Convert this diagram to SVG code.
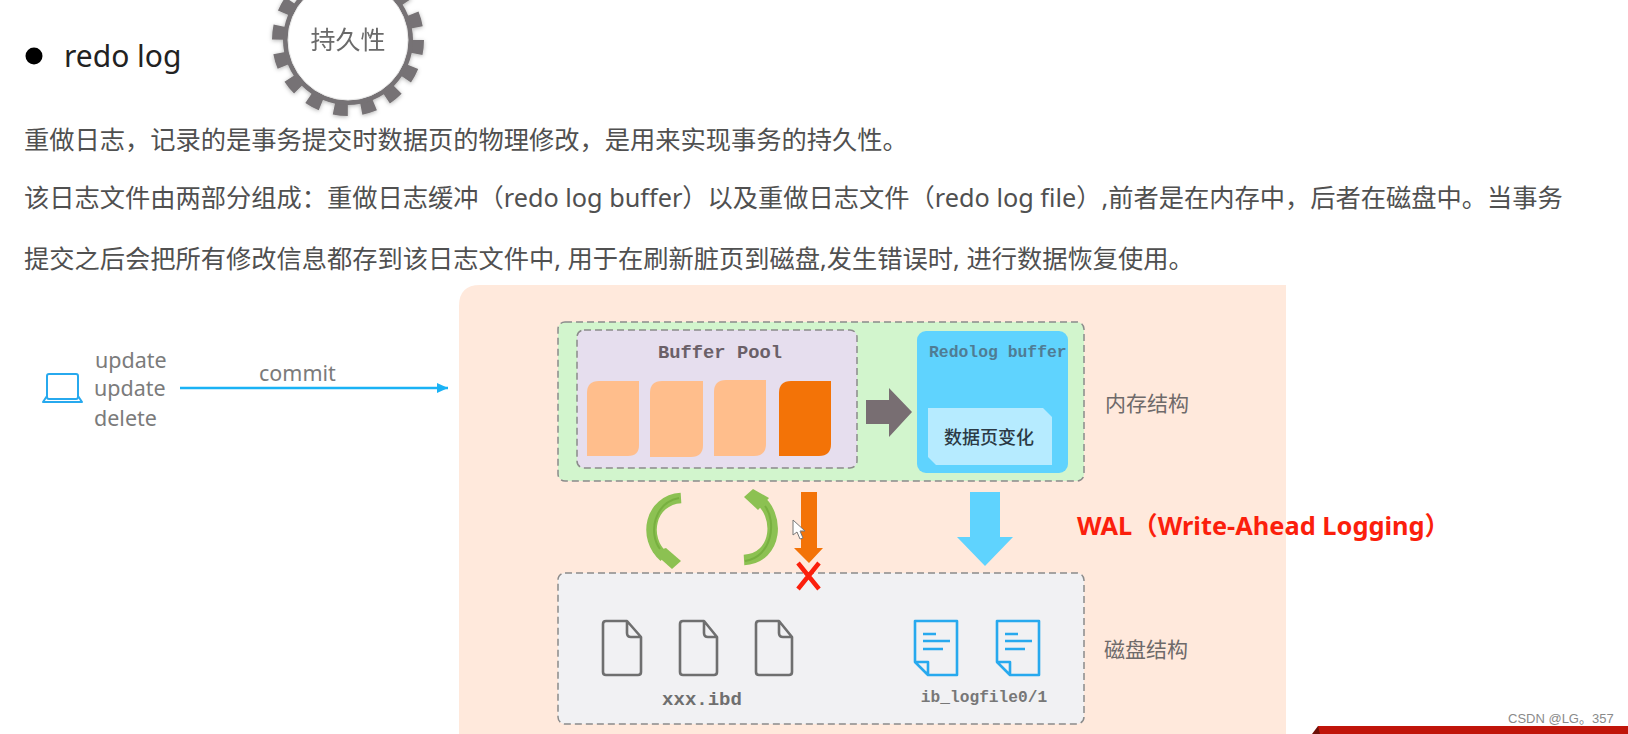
<svg xmlns="http://www.w3.org/2000/svg" width="1628" height="734" viewBox="0 0 1628 734">
<style>
text{font-family:"Noto Sans","Noto Sans CJK SC",sans-serif}
.p{font-size:25.25px;fill:#505050}
.g{font-size:21.5px;fill:#7b7b7b}
.m{font-family:"Liberation Mono","Noto Sans CJK SC",monospace;font-weight:700}
.lab{font-size:21px;fill:#6e6a6a;text-anchor:middle}
.dash{stroke:#8b8b8b;stroke-width:1.5;stroke-dasharray:7 4}
.pg{fill:#ffbe8c}
.doc{fill:none;stroke:#6f6f6f;stroke-width:2.6;stroke-linejoin:round}
.bdoc{fill:none;stroke:#27a9ee;stroke-width:2.6;stroke-linejoin:round}
.arc{fill:none;stroke:#8cc152;stroke-width:10.5}
.arci{fill:none;stroke:#78b040;stroke-width:2}
</style>
<defs>
<marker id="ah" markerUnits="userSpaceOnUse" markerWidth="12" markerHeight="12" refX="11" refY="6" orient="auto"><path d="M0,1 L11,6 L0,11 Z" fill="#1ab2f5"/></marker>
<filter id="sh" x="-20%" y="-20%" width="140%" height="140%"><feDropShadow dx="0" dy="1" stdDeviation="2" flood-color="#000" flood-opacity=".3"/></filter>
</defs>
<rect width="1628" height="734" fill="#fff"/>

<g id="title">
<circle cx="34" cy="56" r="8.5" fill="#000"/>
<text x="64" y="67" font-size="30" fill="#222">redo log</text>
</g>
<g id="gear" filter="url(#sh)">
<circle cx="348" cy="40" r="70" fill="none" stroke="#767274" stroke-width="12" stroke-dasharray="14 13.49"/>
<circle cx="348" cy="40" r="65" fill="#767274"/>
<circle cx="348" cy="40" r="60" fill="#fff" stroke="#e8e8e8" stroke-width="1"/>
<text x="348" y="49" font-size="25" fill="#6a6a6a" text-anchor="middle">持久性</text>
</g>
<g id="para">
<text class="p" x="24" y="149">重做日志，记录的是事务提交时数据页的物理修改，是用来实现事务的持久性。</text>
<text class="p" x="24" y="207">该日志文件由两部分组成：重做日志缓冲（redo log buffer）以及重做日志文件（redo log file）,前者是在内存中，后者在磁盘中。当事务</text>
<text class="p" x="24" y="268">提交之后会把所有修改信息都存到该日志文件中, 用于在刷新脏页到磁盘,发生错误时, 进行数据恢复使用。</text>
</g>

<g id="client">
<rect x="47" y="374" width="31" height="25" rx="2" fill="none" stroke="#27a9ee" stroke-width="2"/>
<path d="M47,396 L43,402 H82 L78,396" fill="none" stroke="#27a9ee" stroke-width="2" stroke-linejoin="round"/>
<text class="g" x="95" y="368">update</text>
<text class="g" x="94" y="396">update</text>
<text class="g" x="94" y="426">delete</text>
<text class="g" x="259" y="381">commit</text>
</g>

<path id="panel" d="M480,285 H1286 V734 H459 V306 Q459,285 480,285 Z" fill="#ffe9dc"/>

<g id="memory">
<rect x="558" y="322" width="526" height="159" rx="7" fill="#d2f5cd" class="dash"/>
<text class="lab" x="1147" y="411">内存结构</text>
</g>
<g id="bufferpool">
<rect x="577" y="330" width="280" height="138" rx="7" fill="#e6deee" class="dash"/>
<text class="m" x="720" y="358" font-size="18.8" fill="#6a6068" text-anchor="middle">Buffer Pool</text>
<path class="pg" d="M599,381 H639 V445 Q639,456 628,456 H587 V393 Q587,381 599,381 Z"/>
<path class="pg" d="M662,381 H703 V445 Q703,457 691,457 H650 V393 Q650,381 662,381 Z"/>
<path class="pg" d="M726,380 H766 V444 Q766,456 754,456 H714 V392 Q714,380 726,380 Z"/>
<path d="M791,381 H831 V444 Q831,456 819,456 H779 V393 Q779,381 791,381 Z" fill="#f37307"/>
</g>
<g id="redobuffer">
<rect x="917" y="331" width="151" height="142" rx="9" fill="#5fd3fe"/>
<text class="m" x="929" y="357" font-size="16.4" fill="#4f7c94">Redolog buffer</text>
<path d="M928,408 H1043 L1052,417 V465 H936 L928,457 Z" fill="#b6ebff"/>
<text x="989" y="444" font-size="18" font-weight="500" fill="#2b3a45" text-anchor="middle">数据页变化</text>
</g>
<g id="disk">
<rect x="558" y="573" width="526" height="151" rx="7" fill="#f1f1f3" class="dash"/>
<text class="lab" x="1146" y="657">磁盘结构</text>
</g>
<g id="ibd">
<path class="doc" d="M606,621 H627 L641,637 V672 Q641,675 638,675 H606 Q603,675 603,672 V624 Q603,621 606,621 Z M627,621 V633 Q627,637 631,637 H641"/>
<path class="doc" d="M683,621 H704 L717,637 V672 Q717,675 714,675 H683 Q680,675 680,672 V624 Q680,621 683,621 Z M704,621 V633 Q704,637 708,637 H717"/>
<path class="doc" d="M759,621 H779 L792,637 V672 Q792,675 789,675 H759 Q756,675 756,672 V624 Q756,621 759,621 Z M779,621 V633 Q779,637 783,637 H792"/>
<text class="m" x="702" y="705" font-size="19" fill="#6f6f6f" text-anchor="middle">xxx.ibd</text>
</g>
<g id="logfile">
<g id="logfile0"><path class="bdoc" d="M915,621 H957 V675 H928 L915,662 Z M915,662 H928 V675"/><path class="bdoc" d="M923,634 H936 M923,641 H950 M923,649 H943"/></g>
<g id="logfile1"><path class="bdoc" d="M997,621 H1039 V675 H1010 L997,662 Z M997,662 H1010 V675"/><path class="bdoc" d="M1005,634 H1018 M1005,641 H1032 M1005,649 H1025"/></g>
<text class="m" x="984" y="702" font-size="16.2" fill="#777" text-anchor="middle">ib_logfile0/1</text>
</g>

<g id="connectors">
<line x1="180" y1="388" x2="448" y2="388" stroke="#1ab2f5" stroke-width="2.6" marker-end="url(#ah)"/>
<polygon points="866,400 889,400 889,388 912,412 889,437 889,424 866,424" fill="#786e72"/>
<path class="arc" d="M681,498 C650,500 642,538 664,557"/>
<path class="arci" d="M679,498 C654,503 648,533 660,549"/>
<polygon points="653,552 666,548 681,561 672,569" fill="#8cc152"/>
<path class="arc" d="M744,560 C778,558 781,514 757,498"/>
<path class="arci" d="M745,561 C772,557 777,522 765,506"/>
<polygon points="744,497 753,489 769,498 758,510" fill="#8cc152"/>
<polygon points="801,492 817,492 817,548 823,548 809,563 794,548 801,548" fill="#f37307"/>
<path d="M798,563 L819,589 M819,563 L798,589" stroke="#fb1f0c" stroke-width="4.5" fill="none"/>
<polygon points="970,492 1000,492 1000,537 1013,537 985,566 957,537 970,537" fill="#5fd3fe"/>
</g>

<path id="cursor" d="M793,520 V535 L797,532 L800,539 L803,538 L800,531 L805,531 Z" fill="#fff" stroke="#777" stroke-width="1"/>
<text x="1077" y="535" font-size="25.4" font-weight="700" fill="#fb1f0c" id="wal">WAL（Write-Ahead Logging）</text>
<text x="1508" y="723" font-size="13" fill="#8a8a8a" style="font-family:'Liberation Sans','Noto Sans CJK SC',sans-serif" id="mark">CSDN @LG。357</text>
<g id="corner">
<rect x="1318" y="726" width="310" height="8" fill="#c0150a"/>
<polygon points="1312,734 1318,726 1320,734" fill="#6d0f08"/>
</g>
</svg>
